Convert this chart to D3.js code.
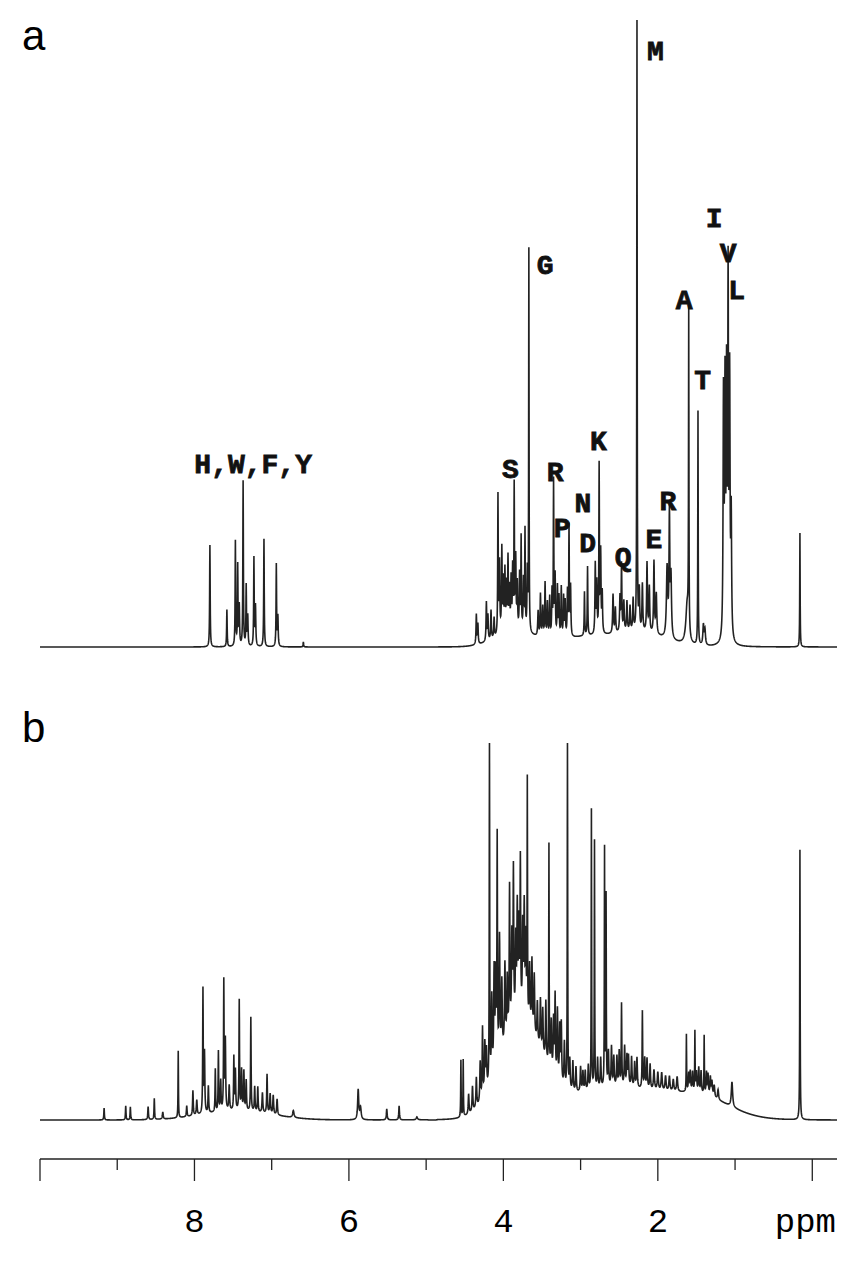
<!DOCTYPE html>
<html><head><meta charset="utf-8">
<script src="https://cdn.jsdelivr.net/npm/d3@7"></script>
<style>body{margin:0;background:#fff}</style>
</head><body><svg id="c" width="856" height="1261"></svg>
<script>
// Panel a peaks: [ppm, height, halfwidth ppm]
const peaksA = [
 [7.80,102,.004],[7.58,37,.004],[7.47,105,.004],[7.44,80,.004],[7.42,40,.005],[7.37,165,.004],[7.33,60,.004],
 [7.31,30,.005],[7.23,88,.004],[7.21,40,.005],[7.10,108,.004],[6.94,82,.004],[6.92,30,.005],[6.59,5,.004],
 [4.35,30,.005],[4.33,20,.005],[4.22,39,.005],[4.20,25,.005],[4.16,29,.005],[4.12,20,.005],[4.07,139,.004],
 [4.05,70,.005],[4.02,84,.005],[4.00,50,.005],[3.98,60,.005],[3.96,45,.005],[3.94,72,.005],[3.92,40,.005],
 [3.90,50,.005],[3.88,60,.005],[3.86,142,.004],[3.84,70,.005],[3.82,45,.005],[3.79,55,.005],[3.77,92,.004],
 [3.74,50,.005],[3.72,100,.004],[3.69,60,.005],[3.67,382,.003],
 [3.55,25,.006],[3.52,42,.005],[3.49,30,.006],[3.46,54,.005],[3.43,35,.006],[3.40,40,.005],[3.37,45,.005],
 [3.35,155,.004],[3.33,60,.005],[3.30,50,.005],[3.28,40,.005],[3.25,50,.005],[3.22,40,.005],[3.20,35,.005],
 [3.17,45,.005],[3.15,109,.004],[3.13,50,.005],
 [2.95,44,.004],[2.91,69,.004],[2.81,70,.005],[2.79,50,.005],[2.76,167,.004],[2.74,80,.005],[2.72,40,.005],
 [2.58,39,.006],[2.55,25,.006],[2.49,35,.006],[2.47,67,.005],[2.44,30,.006],[2.40,30,.006],[2.36,25,.006],
 [2.32,32,.006],[2.27,627,.003],[2.24,40,.006],[2.20,47,.006],
 [2.14,69,.006],[2.11,45,.006],[2.05,72,.006],[2.02,40,.007],[1.88,70,.01],[1.85,120,.006],[1.83,60,.008],
 [1.62,39,.02],[1.60,320,.003],[1.48,234,.003],[1.41,20,.008],[1.39,15,.008],
 [1.15,240,.006],[1.13,242,.006],[1.11,250,.006],[1.09,349,.005],[1.07,255,.006],[1.05,120,.006],
 [0.16,114,.003]
];
const humpsA = [[3.85,14,0.25],[2.9,10,0.4],[2.2,12,0.3],[4.92,-5,0.02]];

const peaksB = [
 [9.17,12,.004],[8.89,14,.004],[8.83,13,.004],[8.60,13,.005],[8.52,21,.004],[8.41,7,.006],
 [8.21,67,.003],[8.10,11,.005],[8.02,25,.005],[7.97,15,.006],[7.89,124,.004],[7.87,60,.005],[7.82,27,.005],
 [7.73,43,.004],[7.69,60,.004],[7.66,30,.005],[7.62,129,.004],[7.60,70,.005],[7.55,25,.006],[7.49,53,.004],
 [7.47,40,.005],[7.42,110,.004],[7.39,40,.005],[7.36,39,.005],[7.33,30,.005],[7.27,94,.004],[7.22,25,.005],
 [7.18,25,.005],[7.12,20,.006],[7.06,39,.005],[7.02,20,.006],[6.98,19,.006],[6.93,16,.006],[6.72,7,.01],
 [5.88,30,.008],[5.85,12,.01],[5.51,11,.006],[5.35,14,.005],[5.12,3,.01],
 [4.55,57,.003],[4.52,57,.003],[4.45,20,.006],[4.40,25,.006],[4.35,30,.006],[4.30,40,.006],[4.27,70,.005],
 [4.24,50,.006],[4.22,40,.006],[4.18,377,.003],[4.15,80,.006],[4.12,100,.006],[4.10,90,.006],
 [4.08,223,.004],[4.05,120,.006],[4.02,70,.006],[3.98,80,.006],[3.95,60,.006],[3.92,145,.005],[3.89,90,.006],
 [3.87,153,.005],[3.84,80,.006],[3.82,110,.006],[3.80,90,.006],
 [3.78,155,.005],[3.75,90,.006],[3.73,110,.006],[3.71,80,.006],[3.69,238,.003],[3.66,60,.006],[3.63,70,.006],
 [3.60,60,.006],[3.56,40,.006],[3.52,50,.006],[3.49,45,.006],[3.45,60,.006],
 [3.41,222,.003],[3.38,50,.006],[3.35,55,.006],[3.33,80,.005],[3.30,70,.006],[3.27,55,.006],[3.25,60,.006],
 [3.21,45,.006],[3.17,377,.003],[3.14,30,.006],[3.10,30,.006],[3.06,25,.006],
 [3.00,25,.006],[2.97,20,.006],[2.94,20,.006],[2.90,25,.006],[2.86,280,.003],[2.82,248,.003],[2.78,30,.006],
 [2.74,30,.006],[2.69,238,.003],[2.67,190,.003],[2.64,35,.006],
 [2.60,40,.006],[2.57,30,.006],[2.53,30,.006],[2.50,35,.006],[2.47,82,.004],[2.43,40,.006],[2.40,30,.006],
 [2.38,30,.006],[2.34,30,.006],[2.30,25,.006],[2.27,30,.006],
 [2.20,77,.004],[2.17,30,.006],[2.14,30,.006],[2.10,25,.006],[2.05,20,.008],[2.00,18,.008],[1.95,18,.008],
 [1.90,15,.008],[1.85,15,.008],[1.80,12,.008],[1.75,15,.008],
 [1.63,57,.003],[1.60,18,.006],[1.58,20,.006],[1.55,20,.006],[1.52,60,.003],[1.50,20,.006],[1.47,25,.006],
 [1.44,22,.006],[1.40,58,.003],[1.37,22,.006],[1.35,20,.006],[1.32,18,.006],
 [1.30,15,.008],[1.27,12,.008],[1.22,10,.008],[1.04,25,.01],[0.16,270,.003]
];
const humpsB = [[3.78,88,0.27],[2.5,32,0.75],[1.4,14,0.35],[7.45,9,0.45],[4.92,-8,0.02]];

const axisTicks = [10,9,8,7,6,5,4,3,2,1,0];
const tickLabels = [["8",8],["6",6],["4",4],["2",2]];
const labelsA = [
 ["H,W,F,Y",7.24,473],["S",3.91,478],["G",3.46,274],["R",3.33,481],["K",2.77,450],["N",2.97,512],
 ["P",3.24,537],["D",2.91,552],["Q",2.45,566],["E",2.05,548],["R",1.87,510],["M",2.03,60],
 ["A",1.66,309],["T",1.42,389],["I",1.27,227],["V",1.09,262],["L",0.98,299]
];

const svg = d3.select("#c");
const x = d3.scaleLinear().domain([10,-0.32]).range([40,837]);

function spectrum(peaks, humps){
  const pts = d3.range(-0.32, 10.0001, 0.002);
  peaks.forEach(p=>{pts.push(p[0]);});
  pts.sort((a,b)=>a-b);
  return pts.map(v=>{
    let s=0;
    for(const [c,h,w] of peaks){const d=(v-c)/w; s+=h/(1+d*d);}
    for(const [c,h,w] of humps){const d=(v-c)/w; s+=h*Math.exp(-0.5*d*d);}
    return [v,s];
  });
}
function panel(peaks, humps, base, top, maxv){
  const y = d3.scaleLinear().domain([0,maxv]).range([base,top]).clamp(true);
  const data = spectrum(peaks, humps);
  svg.append("path").datum(data)
    .attr("d", d3.line().x(d=>x(d[0])).y(d=>y(d[1])))
    .attr("fill","none").attr("stroke","#222").attr("stroke-width",1.6);
  return y;
}
panel(peaksA, humpsA, 647, 20, 627);
panel(peaksB, humpsB, 1120, 743, 377);

svg.append("text").attr("x",22).attr("y",50).attr("font-family","Liberation Sans, Arial").attr("font-size",42).text("a");
svg.append("text").attr("x",22).attr("y",742).attr("font-family","Liberation Sans, Arial").attr("font-size",42).text("b");

svg.selectAll("text.lab").data(labelsA).enter().append("text").attr("class","lab")
  .attr("x",d=>x(d[1])).attr("y",d=>d[2]).attr("text-anchor","middle")
  .attr("font-family","Liberation Mono, Courier New, monospace").attr("font-weight","bold").attr("font-size",28)
  .attr("stroke","#111").attr("stroke-width",0.8).attr("fill","#111")
  .text(d=>d[0]);

// axis
const ay=1159;
svg.append("line").attr("x1",40).attr("x2",837).attr("y1",ay).attr("y2",ay).attr("stroke","#222").attr("stroke-width",1.3);
svg.selectAll("line.tk").data(axisTicks).enter().append("line").attr("class","tk")
  .attr("x1",d=>x(d)).attr("x2",d=>x(d)).attr("y1",ay).attr("y2",d=>ay+(d%2===0?22:11))
  .attr("stroke","#222").attr("stroke-width",1.3);
svg.selectAll("text.tl").data(tickLabels).enter().append("text").attr("class","tl")
  .attr("x",d=>x(d[1])).attr("y",1232).attr("text-anchor","middle")
  .attr("font-family","Liberation Mono, Courier New, monospace").attr("font-size",34).text(d=>d[0]);
svg.append("text").attr("x",836).attr("y",1232).attr("text-anchor","end")
  .attr("font-family","Liberation Mono, Courier New, monospace").attr("font-size",34).text("ppm");
</script></body></html>
